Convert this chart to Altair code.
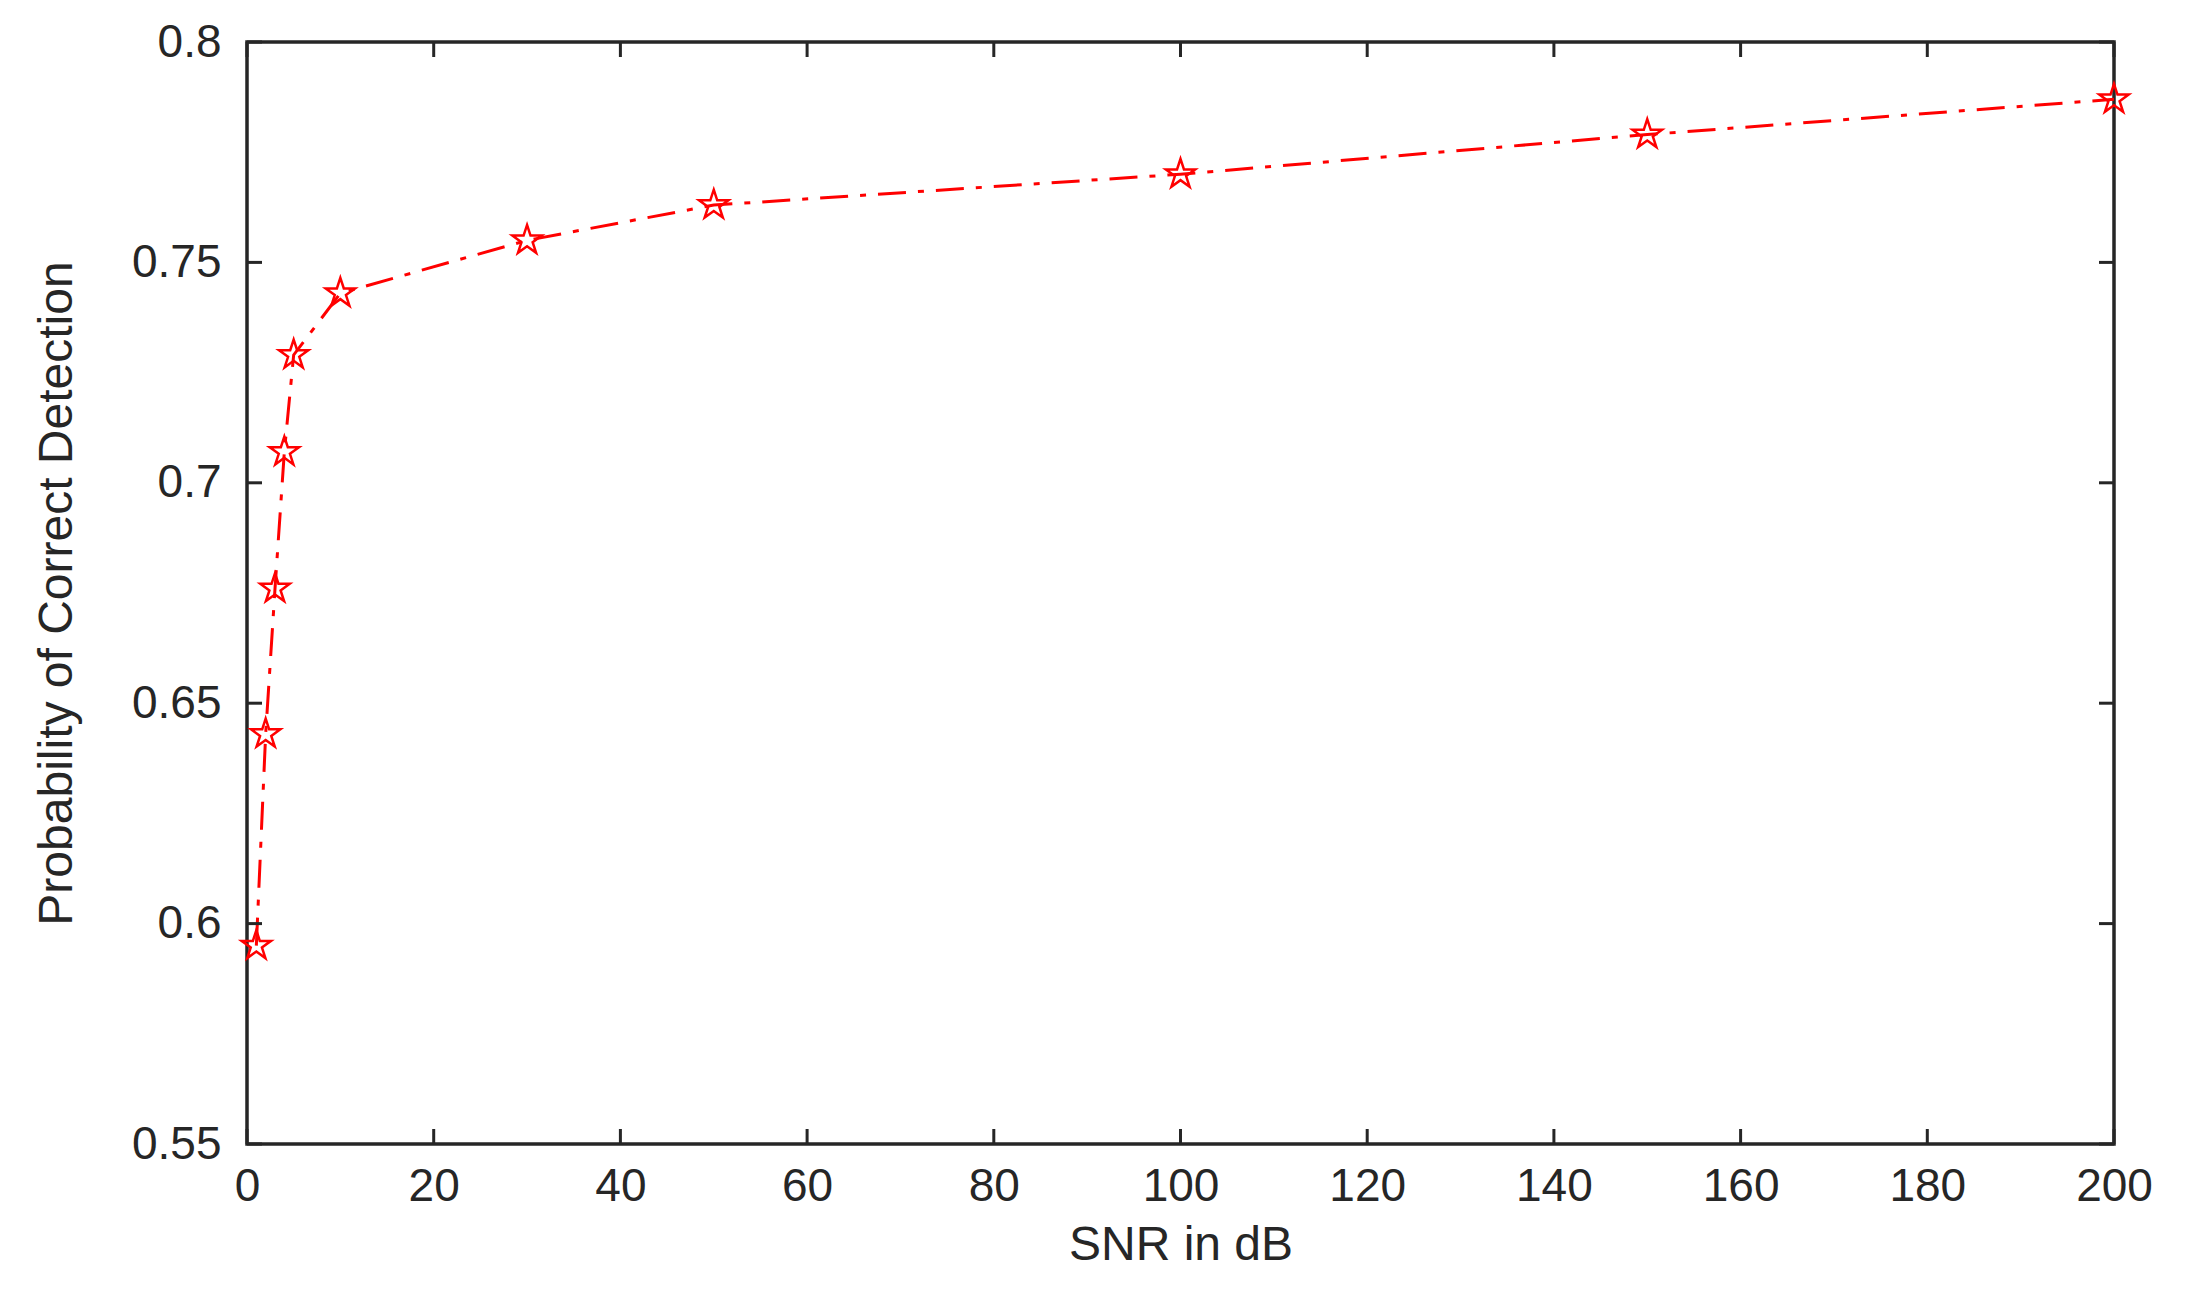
import altair as alt
import pandas as pd

snr = [1, 2, 3, 4, 5, 10, 30, 50, 100, 150, 200]
pcd = [0.595, 0.643, 0.676, 0.707, 0.729, 0.743, 0.755, 0.763, 0.770, 0.779, 0.787]
x_ticks = [0, 20, 40, 60, 80, 100, 120, 140, 160, 180, 200]
y_ticks = [0.55, 0.6, 0.65, 0.7, 0.75, 0.8]

W, H = 1867, 1102
TICK = 15
FONT = "Liberation Sans"
INK = "#262626"

df = pd.DataFrame({"snr": snr, "pcd": pcd})
dx = pd.DataFrame({"t": x_ticks})
dy = pd.DataFrame({"t": y_ticks})

xs = alt.Scale(domain=[0, 200], nice=False, zero=False)
ys = alt.Scale(domain=[0.55, 0.8], nice=False, zero=False)

star = ("M0,-1 L0.225,-0.309 L0.951,-0.309 L0.363,0.118 L0.588,0.809 "
        "L0,0.382 L-0.588,0.809 L-0.363,0.118 L-0.951,-0.309 L-0.225,-0.309 Z")

x_enc = alt.X("snr:Q", scale=xs, title="SNR in dB",
              axis=alt.Axis(values=x_ticks, ticks=False, domain=False, grid=False,
                            labelPadding=20, titlePadding=12, labelFlush=False))
y_enc = alt.Y("pcd:Q", scale=ys, title="Probability of Correct Detection",
              axis=alt.Axis(values=y_ticks, ticks=False, domain=False, grid=False,
                            format="~g", labelPadding=26, titlePadding=50,
                            labelFlush=False))

line = alt.Chart(df).mark_line(color="#ff0000", strokeWidth=3,
                               strokeDash=[28, 12, 6, 12]).encode(x=x_enc, y=y_enc)
pts = alt.Chart(df).mark_point(shape=star, filled=False, color="#ff0000",
                               strokeWidth=2.5, size=950, opacity=1).encode(x="snr:Q", y="pcd:Q")

tb = alt.Chart(dx).mark_rule(color=INK, strokeWidth=3).encode(
    x=alt.X("t:Q", scale=xs), y=alt.value(H), y2=alt.value(H - TICK))
tt = alt.Chart(dx).mark_rule(color=INK, strokeWidth=3).encode(
    x=alt.X("t:Q", scale=xs), y=alt.value(0), y2=alt.value(TICK))
tl = alt.Chart(dy).mark_rule(color=INK, strokeWidth=3).encode(
    y=alt.Y("t:Q", scale=ys), x=alt.value(0), x2=alt.value(TICK))
tr = alt.Chart(dy).mark_rule(color=INK, strokeWidth=3).encode(
    y=alt.Y("t:Q", scale=ys), x=alt.value(W), x2=alt.value(W - TICK))

chart = alt.layer(line, pts, tb, tt, tl, tr).properties(
    width=W, height=H, autosize="none", background="white",
    padding={"left": 239, "top": 34, "right": 60, "bottom": 140},
).configure_view(
    stroke=INK, strokeWidth=3.5
).configure_axis(
    labelFont=FONT, titleFont=FONT, labelFontSize=46, titleFontSize=48,
    labelColor=INK, titleColor=INK, titleFontWeight="normal",
)

chart.save("out.html", embed_options={"renderer": "svg", "actions": False})
